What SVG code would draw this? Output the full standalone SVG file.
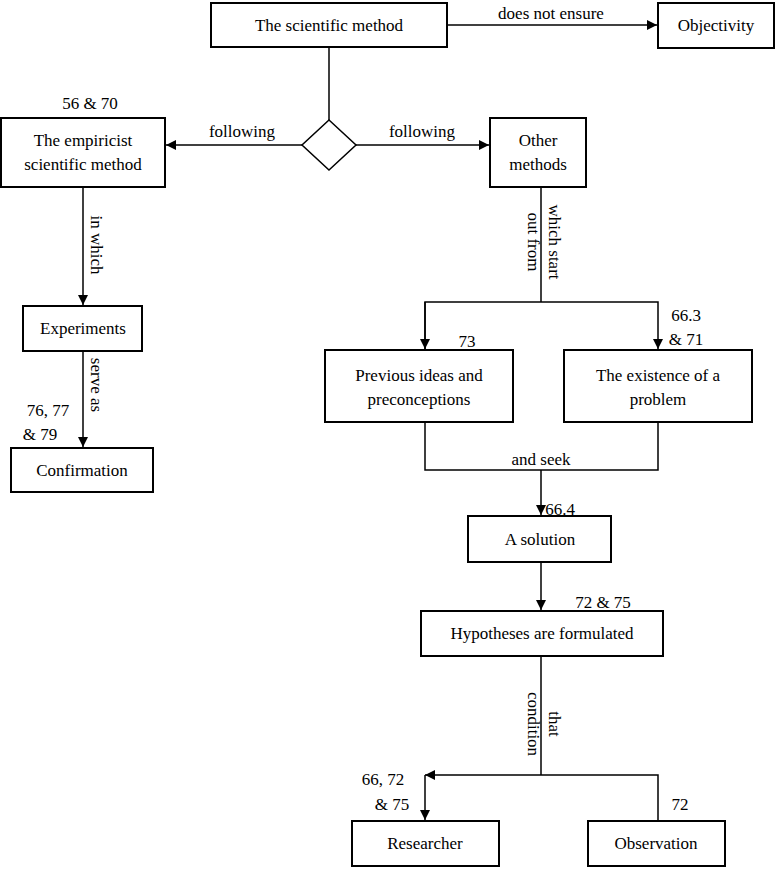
<svg xmlns="http://www.w3.org/2000/svg" width="777" height="871" viewBox="0 0 777 871">
<style>
rect{fill:#fff;stroke:#000;stroke-width:2}
text{font-family:"Liberation Serif","Times New Roman",serif;font-size:17px;fill:#000;text-anchor:middle}
.c path,.c line{stroke:#000;stroke-width:1.5;fill:none}
</style>
<defs><marker id="a" viewBox="0 0 10 10" refX="10" refY="5" markerWidth="10" markerHeight="10" markerUnits="userSpaceOnUse" orient="auto"><path d="M0,0L10,5L0,10z" fill="#000"/></marker></defs>
<rect width="777" height="871" style="fill:#fff;stroke:none"/>
<g class="c" id="connectors">
<line x1="447" y1="25" x2="657" y2="25" marker-end="url(#a)"/>
<line x1="329" y1="47" x2="329" y2="120"/>
<polygon points="329,120 356,145 329,170 302,145" style="fill:#fff;stroke:#000;stroke-width:1.5"/>
<line x1="302" y1="145" x2="166" y2="145" marker-end="url(#a)"/>
<line x1="356" y1="145" x2="489" y2="145" marker-end="url(#a)"/>
<line x1="83" y1="187" x2="83" y2="305" marker-end="url(#a)"/>
<line x1="83" y1="351" x2="83" y2="447" marker-end="url(#a)"/>
<line x1="541" y1="187" x2="541" y2="302"/>
<path d="M425,349V302H658V349" marker-end="url(#a)"/>
<line x1="425" y1="302" x2="425" y2="349" marker-end="url(#a)"/>
<path d="M425,422V470H658V422"/>
<line x1="541" y1="470" x2="541" y2="515" marker-end="url(#a)"/>
<line x1="541" y1="562" x2="541" y2="610" marker-end="url(#a)"/>
<line x1="541" y1="656" x2="541" y2="775"/>
<path d="M658,820V775H425" marker-end="url(#a)"/>
<line x1="425" y1="775" x2="425" y2="820" marker-end="url(#a)"/>
<text x="551" y="19">does not ensure</text>
<text x="242" y="137">following</text>
<text x="422" y="137">following</text>
<text transform="translate(91,245) rotate(90)">in which</text>
<text transform="translate(91,385) rotate(90)">serve as</text>
<text transform="translate(549,242) rotate(90)">which start</text>
<text transform="translate(528,242) rotate(90)">out from</text>
<text x="541" y="465">and seek</text>
<text transform="translate(549,724) rotate(90)">that</text>
<text transform="translate(528,724) rotate(90)">condition</text>
</g>
<g id="n1"><rect x="211" y="3" width="236" height="44"/><text x="329" y="31">The scientific method</text></g>
<g id="n2"><rect x="658" y="3" width="116" height="45"/><text x="716" y="31">Objectivity</text></g>
<g id="n3"><text x="90" y="109">56 &amp; 70</text><rect x="1" y="118" width="164" height="69"/><text x="83" y="146">The empiricist</text><text x="83" y="170">scientific method</text></g>
<g id="n4"><rect x="490" y="118" width="96" height="69"/><text x="538" y="146">Other</text><text x="538" y="170">methods</text></g>
<g id="n5"><rect x="23" y="306" width="119" height="45"/><text x="83" y="334">Experiments</text></g>
<g id="n6"><text x="48" y="416">76, 77</text><text x="40" y="440">&amp; 79</text><rect x="11" y="448" width="142" height="44"/><text x="82" y="476">Confirmation</text></g>
<g id="n7"><text x="467" y="347">73</text><rect x="325" y="350" width="188" height="72"/><text x="419" y="381">Previous ideas and</text><text x="419" y="405">preconceptions</text></g>
<g id="n8"><text x="686" y="321">66.3</text><text x="686" y="345">&amp; 71</text><rect x="564" y="350" width="188" height="72"/><text x="658" y="381">The existence of a</text><text x="658" y="405">problem</text></g>
<g id="n9"><text x="560" y="515">66.4</text><rect x="468" y="516" width="143" height="46"/><text x="540" y="545">A solution</text></g>
<g id="n10"><text x="603" y="608">72 &amp; 75</text><rect x="421" y="611" width="242" height="45"/><text x="542" y="639">Hypotheses are formulated</text></g>
<g id="n11"><text x="383" y="785">66, 72</text><text x="392" y="810">&amp; 75</text><rect x="352" y="821" width="147" height="45"/><text x="425" y="849">Researcher</text></g>
<g id="n12"><text x="680" y="810">72</text><rect x="588" y="821" width="137" height="45"/><text x="656" y="849">Observation</text></g>
</svg>
